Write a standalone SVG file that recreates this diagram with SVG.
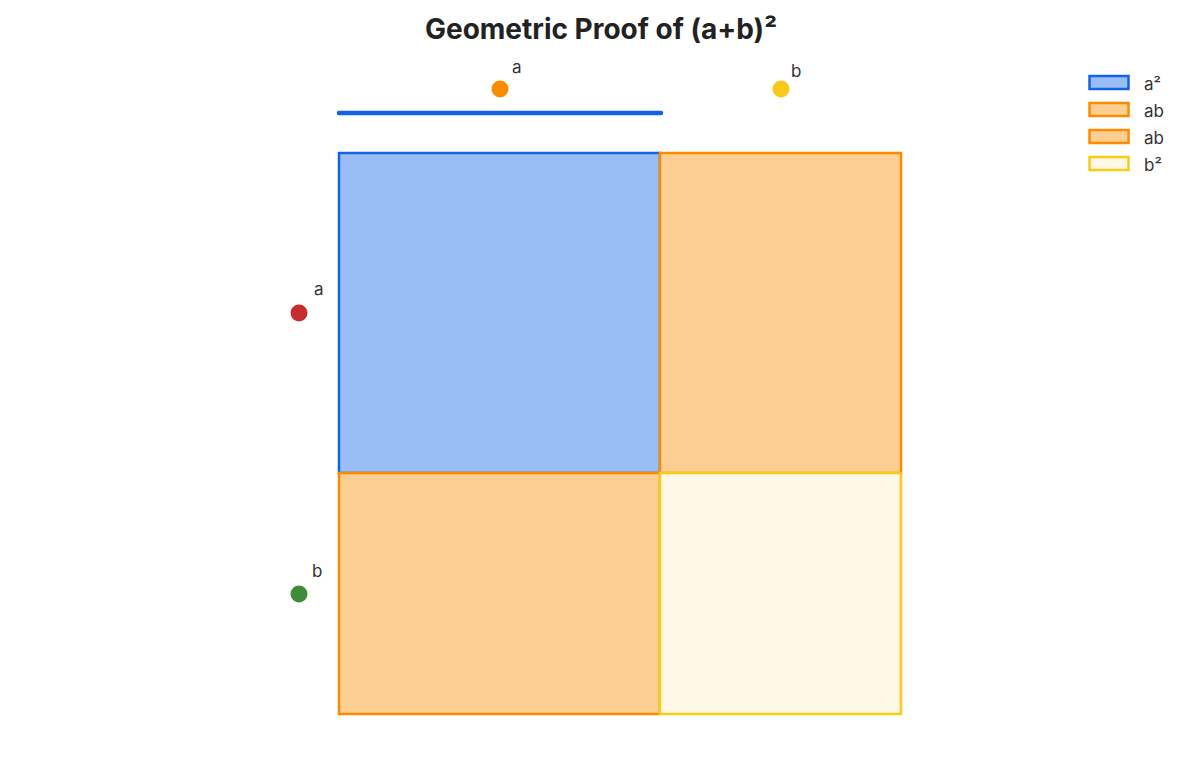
<svg xmlns="http://www.w3.org/2000/svg" width="1200" height="763" viewBox="0 0 1200 763">
<style>
text { font-family: Inter, "Liberation Sans", sans-serif; fill: #222; }
.title { font-size: 28px; font-weight: 700; text-anchor: middle; }
.lbl { font-size: 17px; fill: #333; }
.leg { font-size: 17px; fill: #333; }
.sqA { fill: #9bbdf6; stroke: #1463e6; stroke-width: 2.5; }
.sqAB { fill: #fdce92; stroke: #fb8c00; stroke-width: 2.5; }
.sqB { fill: #fff8e6; stroke: #fbca18; stroke-width: 2.5; }
</style>
<rect width="1200" height="763" fill="#ffffff"/>
<text class="title" x="601" y="39">Geometric Proof of (a+b)²</text>
<g id="connectors">
<line x1="339" y1="113" x2="661" y2="113" stroke="#1463e6" stroke-width="4.5" stroke-linecap="round"/>
</g>
<g id="square-a2"><rect class="sqA" x="339" y="153" width="321" height="320"/></g>
<g id="rect-ab-top"><rect class="sqAB" x="660" y="153" width="241" height="320"/></g>
<g id="rect-ab-bottom"><rect class="sqAB" x="339" y="473" width="321" height="241"/></g>
<g id="square-b2"><rect class="sqB" x="660" y="473" width="241" height="241"/></g>
<g id="point-top-a"><circle cx="500" cy="89" r="8.5" fill="#fb8c00"/><text class="lbl" x="512" y="73">a</text></g>
<g id="point-top-b"><circle cx="781" cy="89" r="8.5" fill="#f9c818"/><text class="lbl" x="791" y="77">b</text></g>
<g id="point-left-a"><circle cx="299" cy="313" r="8.5" fill="#c62c2c"/><text class="lbl" x="314" y="295">a</text></g>
<g id="point-left-b"><circle cx="299" cy="594" r="8.5" fill="#3f8c38"/><text class="lbl" x="312" y="577">b</text></g>
<g id="legend">
<rect class="sqA" x="1089.5" y="76" width="39" height="13"/><text class="leg" x="1144" y="90">a²</text>
<rect class="sqAB" x="1089.5" y="103" width="39" height="13"/><text class="leg" x="1144" y="117">ab</text>
<rect class="sqAB" x="1089.5" y="130" width="39" height="13"/><text class="leg" x="1144" y="144">ab</text>
<rect class="sqB" x="1089.5" y="157" width="39" height="13"/><text class="leg" x="1144" y="171">b²</text>
</g>
</svg>
